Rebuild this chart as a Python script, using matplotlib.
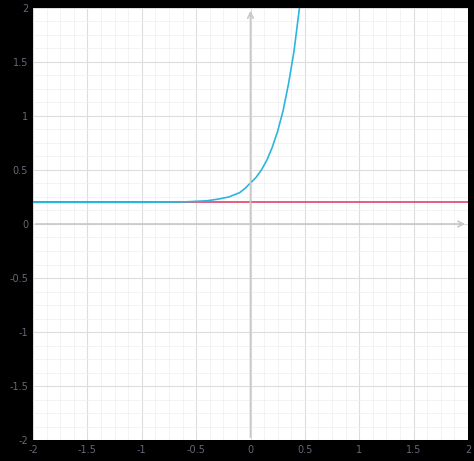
import matplotlib.pyplot as plt
import numpy as np

# points
curve_x = [-2.0, -1.5, -1.0, -0.6, -0.4, -0.3, -0.2, -0.15, -0.1, -0.05, 0.0, 0.05, 0.1,
           0.15, 0.2, 0.25, 0.3, 0.35, 0.4, 0.42, 0.45]
curve_y = [0.2, 0.2, 0.2, 0.205, 0.215, 0.23, 0.25, 0.27, 0.29, 0.33, 0.38, 0.43, 0.5,
           0.59, 0.71, 0.86, 1.05, 1.3, 1.6, 1.76, 2.0]
line_x = [-2.0, 2.0]
line_y = [0.2, 0.2]
ticks = [-2, -1.5, -1, -0.5, 0, 0.5, 1, 1.5, 2]
tick_labels = ["-2", "-1.5", "-1", "-0.5", "0", "0.5", "1", "1.5", "2"]

fig = plt.figure(figsize=(4.74, 4.61), dpi=100, facecolor="black")
ax = fig.add_axes([33 / 474, 21 / 461, 435 / 474, 432 / 461])
ax.set_facecolor("white")
ax.set_xlim(-2, 2)
ax.set_ylim(-2, 2)

ax.set_xticks(ticks)
ax.set_yticks(ticks)
ax.set_xticklabels(tick_labels)
ax.set_yticklabels(tick_labels)
ax.set_xticks(np.arange(-2, 2.01, 0.125), minor=True)
ax.set_yticks(np.arange(-2, 2.01, 0.125), minor=True)
ax.grid(which="major", color="#dddddd", lw=0.8)
ax.grid(which="minor", color="#eeeeee", lw=0.5)
ax.tick_params(which="both", length=0, colors="#666677", labelsize=7)
for s in ax.spines.values():
    s.set_visible(False)

ax.annotate("", xy=(2, 0), xytext=(-2, 0),
            arrowprops=dict(arrowstyle="->", color="#c8c8c8", lw=1.2))
ax.annotate("", xy=(0, 2), xytext=(0, -2),
            arrowprops=dict(arrowstyle="->", color="#c8c8c8", lw=1.2))

ax.plot(line_x, line_y, color="#e0446a", lw=1.2)
ax.plot(curve_x, curve_y, color="#2bb5e0", lw=1.2, solid_joinstyle="round")

fig.savefig("out.png", dpi=100, facecolor="black")
